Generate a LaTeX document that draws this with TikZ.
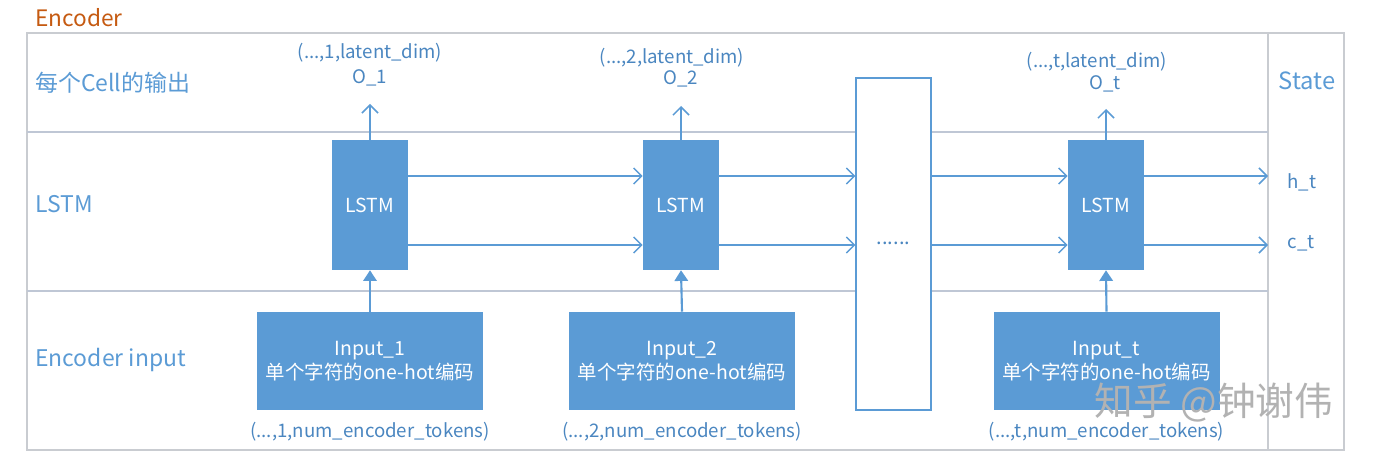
\documentclass[tikz,border=0pt]{standalone}
\usepackage{fontspec}
\setmainfont{Noto Sans CJK SC}
\usetikzlibrary{arrows.meta,calc}
\definecolor{boxblue}{HTML}{5B9BD5}
\definecolor{txtblue}{HTML}{4A86C0}
\definecolor{lblblue}{HTML}{5B9BD5}
\definecolor{sepgray}{HTML}{BFC7D5}
\definecolor{framegray}{HTML}{C9CCD1}
\definecolor{enccol}{HTML}{C55A11}
\begin{document}
\begin{tikzpicture}[x=0.75pt,y=-0.75pt,
  lstmbox/.style={draw=none,fill=boxblue,minimum width=57pt,minimum height=97.5pt,inner sep=0pt,text=white,font=\fontsize{14.5}{16}\selectfont},
  inbox/.style={draw=none,fill=boxblue,minimum width=169.5pt,minimum height=73.5pt,inner sep=0pt,text=white,align=center,font=\fontsize{14.6}{17.5}\selectfont},
  dotbox/.style={draw=boxblue,line width=0.8pt,fill=white,minimum width=56.25pt,minimum height=249pt,inner sep=0pt},
  rowlbl/.style={anchor=west,text=lblblue,inner sep=0pt,font=\fontsize{17.2}{19}\selectfont},
  smlbl/.style={text=txtblue,inner sep=0pt,font=\fontsize{14}{15}\selectfont},
  harrow/.style={draw=boxblue,line width=1.1pt,-{Straight Barb[length=6pt,width=12pt,line width=1.1pt]}},
  iarrow/.style={draw=boxblue,line width=1.6pt,-{Triangle[length=8pt,width=10pt]}},
  sep/.style={draw=sepgray,line width=1pt}
]
\useasboundingbox (0,0) rectangle (1375,466);
% frames
\draw[framegray,line width=0.8pt] (27,33) rectangle (1268,450);
\draw[framegray,line width=0.8pt] (1268,33) rectangle (1344,450);
\draw[sep] (27,132) -- (1268,132);
\draw[sep] (27,291) -- (1268,291);
% title and row labels
\node[anchor=west,text=enccol,inner sep=0pt,font=\fontsize{17}{19}\selectfont] (enc) at (35,18) {Encoder};
\node[rowlbl] (r1) at (35,83) {每个Cell的输出};
\node[rowlbl] (r2) at (35,204) {LSTM};
\node[rowlbl] (r3) at (35,360) {Encoder input};
\node[text=lblblue,inner sep=0pt,font=\fontsize{17.8}{19}\selectfont] (st) at (1307,81) {State};
% dots box
\node[dotbox] (D) at (893.5,244) {};
\node[text=txtblue,font=\fontsize{15}{16}\selectfont] (dd) at (893.5,243) {......};
% LSTM boxes
\node[lstmbox] (L1) at (370,205) {LSTM};
\node[lstmbox] (L2) at (681,205) {LSTM};
\node[lstmbox] (L3) at (1106,205) {LSTM};
% input boxes
\node[inbox] (I1) at (370,361) {Input\_1\\单个字符的one-hot编码};
\node[inbox] (I2) at (682,361) {Input\_2\\单个字符的one-hot编码};
\node[inbox] (I3) at (1106.5,361) {Input\_t\\单个字符的one-hot编码};
% input shape labels
\node[smlbl] (s1) at (370,432) {(...,1,num\_encoder\_tokens)};
\node[smlbl] (s2) at (682,432) {(...,2,num\_encoder\_tokens)};
\node[smlbl] (s3) at (1106.5,432) {(...,t,num\_encoder\_tokens)};
% output labels
\node[smlbl] (t1) at (370,53) {(...,1,latent\_dim)};
\node[smlbl] (o1) at (370,78) {O\_1};
\node[smlbl] (t2) at (672,58) {(...,2,latent\_dim)};
\node[smlbl] (o2) at (681,79) {O\_2};
\node[smlbl] (t3) at (1097,62) {(...,t,latent\_dim)};
\node[smlbl] (o3) at (1105,84) {O\_t};
\node[smlbl] (ht) at (1302,182) {h\_t};
\node[smlbl] (ct) at (1301,243) {c\_t};
% coordinates
\coordinate (hy) at (0,176);
\coordinate (cy) at (0,245);
\coordinate (e1) at (370,104);
\coordinate (e2) at (681,106);
\coordinate (e3) at (1106,109);
\coordinate (rr) at (1268,0);
% vertical output arrows
\draw[harrow] (L1.north) -- (e1);
\draw[harrow] (L2.north) -- (e2);
\draw[harrow] (L3.north) -- (e3);
% input arrows
\draw[iarrow] (I1.north) -- (L1.south);
\draw[iarrow] (I2.north) -- (L2.south);
\draw[iarrow] (I3.north) -- (L3.south);
% horizontal arrows
\draw[harrow] (L1.east |- hy) -- (L2.west |- hy);
\draw[harrow] (L1.east |- cy) -- (L2.west |- cy);
\draw[harrow] (L2.east |- hy) -- (D.west |- hy);
\draw[harrow] (L2.east |- cy) -- (D.west |- cy);
\draw[harrow] (D.east |- hy) -- (L3.west |- hy);
\draw[harrow] (D.east |- cy) -- (L3.west |- cy);
\draw[harrow] (L3.east |- hy) -- (rr |- hy);
\draw[harrow] (L3.east |- cy) -- (rr |- cy);
% watermark
\node[text=gray!60,inner sep=0pt,font=\fontsize{29}{30}\selectfont] (wm) at (1214,403) {知乎 @钟谢伟};
\end{tikzpicture}
\end{document}
